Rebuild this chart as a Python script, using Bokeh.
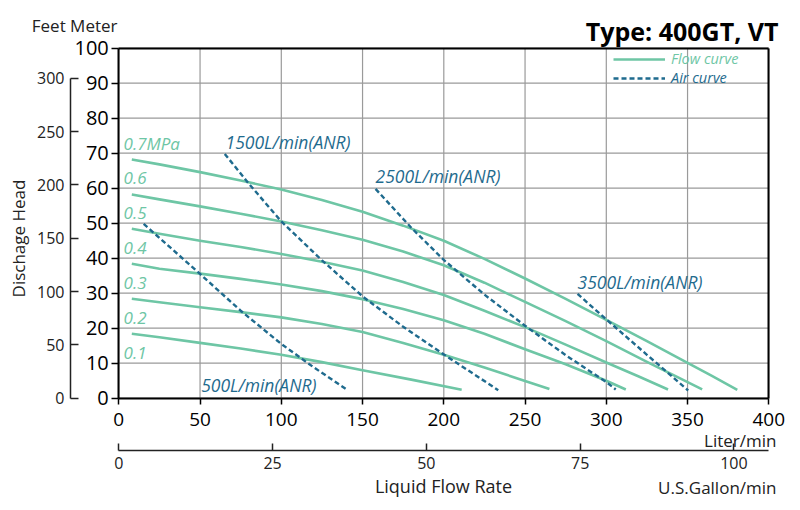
from bokeh.plotting import figure
from bokeh.models import Range1d, LinearAxis, FixedTicker, Label, Legend, LegendItem
from bokeh.embed import file_html
from bokeh.resources import INLINE

# ---------------- data ----------------
# Flow curves (Liter/min, Meter)
flow1_x = [8, 25, 50, 75, 100, 125, 150, 175, 200, 225, 250, 275, 300, 325, 350, 365, 380.6]
flow1_y = [68.2, 66.8, 64.6, 62.2, 59.6, 56.6, 53.3, 49.3, 45.0, 39.8, 34.2, 28.4, 22.4, 16.3, 10.1, 6.4, 2.4]
flow2_x = [8, 25, 50, 75, 100, 125, 150, 175, 200, 225, 250, 275, 300, 325, 359]
flow2_y = [58.2, 56.8, 54.8, 52.7, 50.5, 48.0, 45.3, 41.9, 38.0, 33.0, 27.5, 22.0, 16.3, 10.4, 2.5]
flow3_x = [8, 25, 50, 75, 100, 125, 150, 175, 200, 225, 250, 275, 300, 320, 338]
flow3_y = [48.4, 47.0, 45.0, 43.2, 41.2, 39.0, 36.5, 33.2, 29.5, 25.0, 20.3, 15.3, 10.2, 6.2, 2.5]
flow4_x = [8, 25, 50, 75, 100, 125, 150, 175, 200, 225, 250, 275, 300, 312]
flow4_y = [38.4, 37.0, 35.6, 34.1, 32.5, 30.6, 28.3, 25.5, 22.3, 18.4, 14.0, 9.7, 5.0, 2.5]
flow5_x = [8, 25, 50, 75, 100, 125, 150, 175, 200, 225, 250, 265]
flow5_y = [28.4, 27.4, 26.0, 24.6, 23.1, 21.2, 18.9, 15.8, 12.4, 8.8, 4.9, 2.6]
flow6_x = [8, 25, 50, 75, 100, 125, 150, 180, 211]
flow6_y = [18.4, 17.4, 15.8, 14.2, 12.4, 10.3, 8.0, 5.3, 2.4]

# Air consumption curves
air500_x = [15.3, 50, 75, 100, 120, 140.6]
air500_y = [49.8, 35.5, 25.0, 15.5, 8.8, 2.4]
air1500_x = [65.2, 80, 100, 125, 150, 175, 200, 233.5]
air1500_y = [69.8, 61.3, 50.5, 39.4, 29.1, 20.4, 12.5, 2.3]
air2500_x = [158, 180, 200, 225, 250, 275, 300, 305.8]
air2500_y = [59.8, 48.7, 39.5, 29.6, 20.7, 12.3, 4.6, 2.5]
air3500_x = [282.3, 300, 325, 350.4]
air3500_y = [29.8, 22.5, 12.4, 2.2]

pressure_labels = ["0.7MPa", "0.6", "0.5", "0.4", "0.3", "0.2", "0.1"]
pressure_label_y = [72.8, 62.8, 52.8, 42.8, 32.8, 22.8, 12.8]
air_labels = ["500L/min(ANR)", "1500L/min(ANR)", "2500L/min(ANR)", "3500L/min(ANR)"]
air_label_x = [50.7, 65.7, 158, 282.3]
air_label_y = [3.9, 73.1, 63.4, 33.3]

meter_ticks = list(range(0, 101, 10))
liter_ticks = list(range(0, 401, 50))
feet_ticks = [0, 50, 100, 150, 200, 250, 300]
gallon_ticks = [0, 25, 50, 75, 100]

M_TO_FT = 3.28084
GAL_TO_L = 3.78541

GREEN = "#6ec6a5"
BLUE = "#1f6b8e"
DARK = "#222222"
FONT = "Open Sans"

# ---------------- layout helpers (canvas pixels -> data) ----------------
W, H = 800, 510
X0_PX, X_SCALE = 118.3, 1.625     # pixel of 0 L/min, pixels per L/min
Y0_PX, Y_SCALE = 397.7, 3.5       # pixel of 0 m, pixels per m


def lx(px):
    return (px - X0_PX) / X_SCALE


def my(py):
    return (Y0_PX - py) / Y_SCALE


p = figure(width=W, height=H, x_range=Range1d(lx(0), lx(W)), y_range=Range1d(my(H), my(0)),
           output_backend="svg", toolbar_location=None, min_border=0)
p.title.visible = False
p.background_fill_color = "white"
p.border_fill_color = "white"
p.outline_line_color = None
p.xgrid.visible = False
p.ygrid.visible = False

p.extra_y_ranges = {"ft": Range1d(my(H) * M_TO_FT, my(0) * M_TO_FT)}
p.extra_x_ranges = {"gal": Range1d(lx(0) / GAL_TO_L, lx(W) / GAL_TO_L)}

x_lo, x_hi = liter_ticks[0], liter_ticks[-1]
y_lo, y_hi = meter_ticks[0], meter_ticks[-1]

# grid lines
p.segment(x0=liter_ticks, y0=[y_lo] * len(liter_ticks), x1=liter_ticks, y1=[y_hi] * len(liter_ticks),
          line_color="#9a9a9a", line_width=1.2)
p.segment(x0=[x_lo] * len(meter_ticks), y0=meter_ticks, x1=[x_hi] * len(meter_ticks), y1=meter_ticks,
          line_color="#9a9a9a", line_width=1.2)


def style_axis(ax, color, lw, size, tick_in, tick_out, standoff):
    ax.major_tick_in = tick_in
    ax.major_tick_out = tick_out
    ax.minor_tick_line_color = None
    ax.major_tick_line_color = color
    ax.major_tick_line_width = 1.5
    ax.axis_line_color = color
    ax.axis_line_width = lw
    ax.major_label_text_font = FONT
    ax.major_label_text_font_size = size
    ax.major_label_text_color = color
    ax.major_label_standoff = standoff


# main x axis (Liter/min)
xa = p.xaxis[0]
xa.fixed_location = y_lo
xa.bounds = (x_lo, x_hi)
xa.ticker = FixedTicker(ticks=liter_ticks)
style_axis(xa, "black", 2, "19px", 0, 6, 9)

# main y axis (Meter)
ya = p.yaxis[0]
ya.fixed_location = x_lo
ya.bounds = (y_lo, y_hi)
ya.ticker = FixedTicker(ticks=meter_ticks)
style_axis(ya, "black", 2, "20px", 0, 7, 3)

# top and right frame lines
top_ax = LinearAxis(fixed_location=y_hi, bounds=(x_lo, x_hi), ticker=FixedTicker(ticks=[]))
style_axis(top_ax, "black", 2, "1px", 0, 0, 0)
p.add_layout(top_ax, "above")
right_ax = LinearAxis(fixed_location=x_hi, bounds=(y_lo, y_hi), ticker=FixedTicker(ticks=[]))
style_axis(right_ax, "black", 2, "1px", 0, 0, 0)
p.add_layout(right_ax, "right")

# feet axis
fa = LinearAxis(y_range_name="ft", fixed_location=lx(70), ticker=FixedTicker(ticks=feet_ticks),
                bounds=(feet_ticks[0], feet_ticks[-1]))
style_axis(fa, DARK, 1.5, "16px", 8, 0, 6)
fa.axis_label = "Dischage Head"
fa.axis_label_text_font = FONT
fa.axis_label_text_font_size = "17px"
fa.axis_label_text_font_style = "normal"
fa.axis_label_text_color = DARK
fa.axis_label_standoff = 4
p.add_layout(fa, "left")

# gallon axis
ga = LinearAxis(x_range_name="gal", fixed_location=my(450), ticker=FixedTicker(ticks=gallon_ticks),
                bounds=(0, x_hi / GAL_TO_L))
style_axis(ga, DARK, 1.5, "16px", 7, 0, 6)
ga.axis_label = "Liquid Flow Rate"
ga.axis_label_text_font = FONT
ga.axis_label_text_font_size = "18px"
ga.axis_label_text_font_style = "normal"
ga.axis_label_text_color = DARK
ga.axis_label_standoff = 2
p.add_layout(ga, "below")

# curves
flow_renderers = []
for xs, ys in [(flow1_x, flow1_y), (flow2_x, flow2_y), (flow3_x, flow3_y),
               (flow4_x, flow4_y), (flow5_x, flow5_y), (flow6_x, flow6_y)]:
    r = p.line(xs, ys, line_color=GREEN, line_width=2.6, line_join="round")
    flow_renderers.append(r)

air_renderers = []
for xs, ys in [(air500_x, air500_y), (air1500_x, air1500_y),
               (air2500_x, air2500_y), (air3500_x, air3500_y)]:
    r = p.line(xs, ys, line_color=BLUE, line_width=2.4, line_dash="5 3", line_join="round")
    air_renderers.append(r)

# curve labels
for txt, yy in zip(pressure_labels, pressure_label_y):
    p.add_layout(Label(x=2.9, y=yy, text=txt, text_font=FONT, text_font_size="17px",
                       text_font_style="italic", text_color=GREEN,
                       text_align="left", text_baseline="middle"))
for txt, xx, yy in zip(air_labels, air_label_x, air_label_y):
    p.add_layout(Label(x=xx, y=yy, text=txt, text_font=FONT, text_font_size="17.5px",
                       text_font_style="italic", text_color=BLUE,
                       text_align="left", text_baseline="middle"))

# outer texts
p.add_layout(Label(x=lx(778), y=my(30), text="Type: 400GT, VT", text_font=FONT,
                   text_font_size="25px", text_font_style="bold", text_color="black",
                   text_align="right", text_baseline="middle"))
p.add_layout(Label(x=lx(117), y=my(25), text="Feet Meter", text_font=FONT,
                   text_font_size="17px", text_color=DARK,
                   text_align="right", text_baseline="middle"))
p.add_layout(Label(x=lx(776), y=my(440), text="Liter/min", text_font=FONT,
                   text_font_size="17px", text_color=DARK,
                   text_align="right", text_baseline="middle"))
p.add_layout(Label(x=lx(776), y=my(487), text="U.S.Gallon/min", text_font=FONT,
                   text_font_size="17px", text_color=DARK,
                   text_align="right", text_baseline="middle"))

# legends (location = bottom-left corner, pixels from the canvas bottom-left)
for item_label, rend, col, bottom_px in [("Flow curve", flow_renderers[0], GREEN, 68),
                                          ("Air curve", air_renderers[0], BLUE, 87)]:
    lg = Legend(items=[LegendItem(label=item_label, renderers=[rend])],
                location=(613, H - bottom_px), orientation="vertical",
                glyph_width=52, glyph_height=14, label_height=14, label_standoff=6,
                padding=0, margin=0, spacing=0,
                label_text_font=FONT, label_text_font_size="14.5px",
                label_text_font_style="italic", label_text_color=col,
                background_fill_alpha=0, border_line_alpha=0)
    p.add_layout(lg, "center")

open("out.html", "w").write(file_html(p, INLINE))
